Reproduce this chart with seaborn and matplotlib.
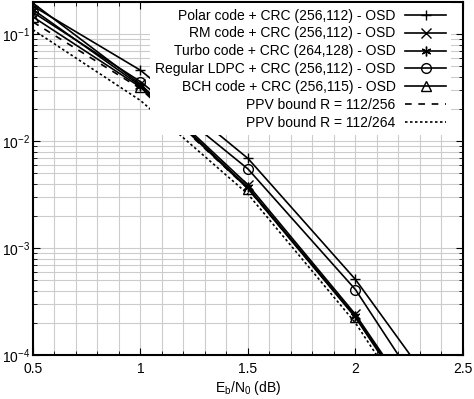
import matplotlib
matplotlib.use("Agg")
import matplotlib.pyplot as plt
import pandas as pd
import seaborn as sns
from matplotlib.ticker import LogLocator, MultipleLocator, NullFormatter

ebn0 = [0.5, 1.0, 1.5, 2.0, 2.5]
polar = [0.183, 0.046, 0.0069, 5.1e-4, 2.1e-5]
rm = [0.195, 0.034, 0.0039, 2.4e-4, 8.0e-6]
turbo = [0.17, 0.033, 0.0037, 2.3e-4, 7.5e-6]
ldpc = [0.16, 0.036, 0.0055, 4.1e-4, 1.2e-5]
bch = [0.145, 0.032, 0.0036, 2.25e-4, 7.0e-6]
ppv256 = [0.13, 0.031, 0.0036, 2.3e-4, 7.0e-6]
ppv264 = [0.11, 0.024, 0.0032, 2.0e-4, 6.0e-6]

labels = [
    "Polar code + CRC (256,112) - OSD",
    "RM code + CRC (256,112) - OSD",
    "Turbo code + CRC (264,128) - OSD",
    "Regular LDPC + CRC (256,112) - OSD",
    "BCH code + CRC (256,115) - OSD",
    "PPV bound R = 112/256",
    "PPV bound R = 112/264",
]
series = [polar, rm, turbo, ldpc, bch, ppv256, ppv264]
markers = ["+", "x", (6, 2, 0), "o", "^", None, None]
styles = ["-", "-", "-", "-", "-", (0, (4, 4)), (0, (1.5, 1.5))]

plt.rcParams["font.family"] = ["Liberation Sans", "DejaVu Sans"]
plt.rcParams["mathtext.fontset"] = "custom"
plt.rcParams["mathtext.rm"] = "Liberation Sans"
plt.rcParams["mathtext.it"] = "Liberation Sans:italic"

fig = plt.figure(figsize=(4.74, 3.99), dpi=100)
ax = fig.add_axes([0.0696, 0.11, 0.907, 0.885])

for lab, vals, m, ls in zip(labels, series, markers, styles):
    df = pd.DataFrame({"x": ebn0, "y": vals})
    sns.lineplot(data=df, x="x", y="y", ax=ax, color="black", lw=1.2,
                 marker=m, markersize=7, markerfacecolor="none",
                 markeredgecolor="black", markeredgewidth=1.0,
                 linestyle=ls, label=lab)

ax.set_yscale("log")
ax.set_xlim(0.5, 2.5)
ax.set_ylim(1e-4, 0.2)
ax.xaxis.set_minor_locator(MultipleLocator(0.1))
ax.yaxis.set_major_locator(LogLocator(base=10, numticks=10))
ax.yaxis.set_minor_locator(LogLocator(base=10, subs=range(2, 10), numticks=10))
ax.yaxis.set_minor_formatter(NullFormatter())
ax.set_xticks([0.5, 1, 1.5, 2, 2.5])
ax.set_xticklabels(["0.5", "1", "1.5", "2", "2.5"])
ax.grid(True, which="both", color="#cccccc", lw=0.8)
ax.set_axisbelow(True)
ax.tick_params(which="both", direction="in", top=True, right=True,
               labelsize=10, pad=5)
ax.tick_params(axis="y", pad=2)
ax.tick_params(which="major", length=5)
ax.tick_params(which="minor", length=3)
for sp in ax.spines.values():
    sp.set_linewidth(1.5)
ax.set_xlabel("E$_\\mathrm{b}$/N$_\\mathrm{0}$ (dB)", fontsize=10)
ax.xaxis.set_label_coords(0.5, -0.068)
ax.set_ylabel("")

leg = ax.legend(loc="upper right", bbox_to_anchor=(0.973, 0.997),
                markerfirst=False, fontsize=10,
                frameon=True, fancybox=False, edgecolor="none",
                framealpha=1.0, handlelength=2.9, handletextpad=0.7,
                labelspacing=0.28, borderaxespad=0.0, borderpad=0.4)
for t in leg.get_texts():
    t.set_ha("right")

fig.savefig("out.png", dpi=100)
